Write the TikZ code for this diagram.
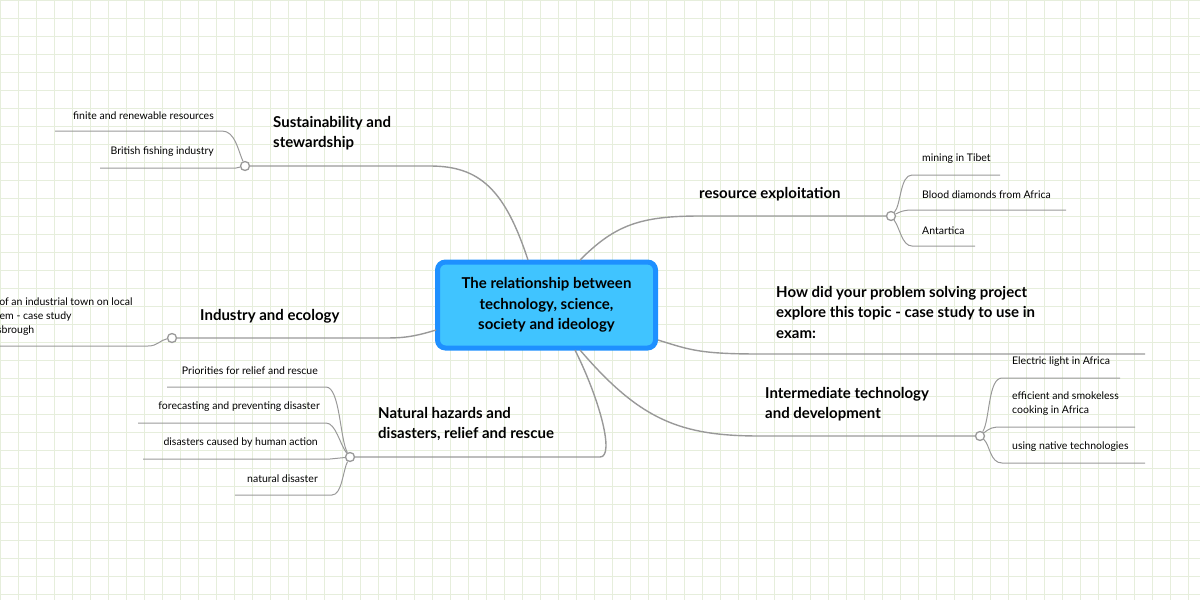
\documentclass[tikz,border=0pt]{standalone}
\usepackage{fontspec}
\setmainfont{Lato}
\usetikzlibrary{positioning}
\definecolor{gridc}{HTML}{E6EEDC}
\definecolor{linec}{HTML}{999999}
\definecolor{boxfill}{HTML}{40C4FF}
\definecolor{boxdraw}{HTML}{1E90FF}
\tikzset{
  topic/.style={font=\fontsize{15}{20.5}\selectfont\bfseries, anchor=west, align=left, inner sep=0},
  leaf/.style={font=\fontsize{10.5}{14}\selectfont, anchor=west, align=left, inner sep=0},
  knob/.style={circle, draw=linec, fill=white, line width=1.3pt, inner sep=0, minimum size=9pt},
  wire/.style={draw=linec, line width=1.4pt},
}
\begin{document}
\begin{tikzpicture}[x=1pt,y=-1pt]
  \useasboundingbox (0,0) rectangle (1200,600);
  \draw[gridc, line width=0.6pt] \foreach \i in {0,18,...,600} {(0,\i) -- (1200,\i)}
    \foreach \i in {0,18,...,1200} {(\i,0) -- (\i,600)};

  % central topic
  \node [rounded corners=8pt, fill=boxfill, draw=boxdraw, line width=5pt,
    minimum width=218pt, minimum height=86pt, align=center,
    font=\fontsize{15}{20.5}\selectfont\bfseries] (root) at (546.5,305)
    {The relationship between\\technology, science,\\society and ideology};

  % knobs
  \node [knob] (sus) at (245,166) {};
  \node [knob] (ind) at (172,338) {};
  \node [knob] (haz) at (350,457) {};
  \node [knob] (res) at (891,216) {};
  \node [knob] (itd) at (980,436) {};
  \coordinate (how) at (1145,354);

  % main branches
  \draw [wire] (528,260) .. controls (505,190) and (480,166) .. (430,166) -- (sus);
  \draw [wire] (436,330) .. controls (410,338) and (400,338) .. (380,338) -- (ind);
  \draw [wire] (575,350) .. controls (600,400) and (615,457) .. (600,457) -- (haz);
  \draw [wire] (580,260) .. controls (615,225) and (640,216) .. (700,216) -- (res);
  \draw [wire] (658,340) .. controls (690,350) and (700,354) .. (760,354) -- (how);
  \draw [wire] (580,350) .. controls (640,420) and (680,436) .. (760,436) -- (itd);

  % topic labels
  \node [topic] at (273,133) {Sustainability and\\stewardship};
  \node [topic] at (200,316) {Industry and ecology};
  \node [topic] at (378,424) {Natural hazards and\\disasters, relief and rescue};
  \node [topic] at (699,194) {resource exploitation};
  \node [topic] at (776,312) {How did your problem solving project\\explore this topic - case study to use in\\exam:};
  \node [topic] at (765,404) {Intermediate technology\\and development};

  % sustainability leaves
  \node [leaf, anchor=east] at (214,116) {finite and renewable resources};
  \node [leaf, anchor=east] at (214,152) {British fishing industry};
  \draw [wire, line width=1pt] (55,131) -- (222,131) .. controls (235,131) and (238,150) .. (sus);
  \draw [wire, line width=1pt] (100,168) -- (236,168) -- (sus);

  % industry leaf
  \node [leaf, anchor=west] at (-35,317) {Impact of an industrial town on local\\ecosystem - case study\\Middlesbrough};
  \draw [wire, line width=1pt] (0,346) -- (148,346) .. controls (158,346) and (160,340) .. (ind);

  % hazard leaves
  \node [leaf, anchor=east] at (318,371) {Priorities for relief and rescue};
  \node [leaf, anchor=east] at (320,407) {forecasting and preventing disaster};
  \node [leaf, anchor=east] at (318,443) {disasters caused by human action};
  \node [leaf, anchor=east] at (318,479) {natural disaster};
  \draw [wire, line width=1pt] (167,387) -- (326,387) .. controls (340,387) and (340,440) .. (haz);
  \draw [wire, line width=1pt] (138,423) -- (326,423) .. controls (336,423) and (340,445) .. (haz);
  \draw [wire, line width=1pt] (143,459) -- (330,459) -- (haz);
  \draw [wire, line width=1pt] (235,495) -- (332,495) .. controls (342,495) and (343,470) .. (haz);

  % resource leaves
  \node [leaf] at (922,159) {mining in Tibet};
  \node [leaf] at (922,195) {Blood diamonds from Africa};
  \node [leaf] at (922,231) {Antartica};
  \draw [wire, line width=1pt] (res) .. controls (901,205) and (900,175) .. (912,175) -- (1000,175);
  \draw [wire, line width=1pt] (res) .. controls (900,212) and (903,210) .. (912,210) -- (1066,210);
  \draw [wire, line width=1pt] (res) .. controls (900,228) and (902,246) .. (912,246) -- (975,246);

  % intermediate leaves
  \node [leaf] at (1012,362) {Electric light in Africa};
  \node [leaf] at (1012,404) {efficient and smokeless\\cooking in Africa};
  \node [leaf] at (1012,447) {using native technologies};
  \draw [wire, line width=1pt] (itd) .. controls (990,420) and (988,378) .. (1002,378) -- (1120,378);
  \draw [wire, line width=1pt] (itd) .. controls (990,428) and (992,427) .. (1002,427) -- (1135,427);
  \draw [wire, line width=1pt] (itd) .. controls (990,445) and (990,463) .. (1002,463) -- (1145,463);
\end{tikzpicture}
\end{document}
